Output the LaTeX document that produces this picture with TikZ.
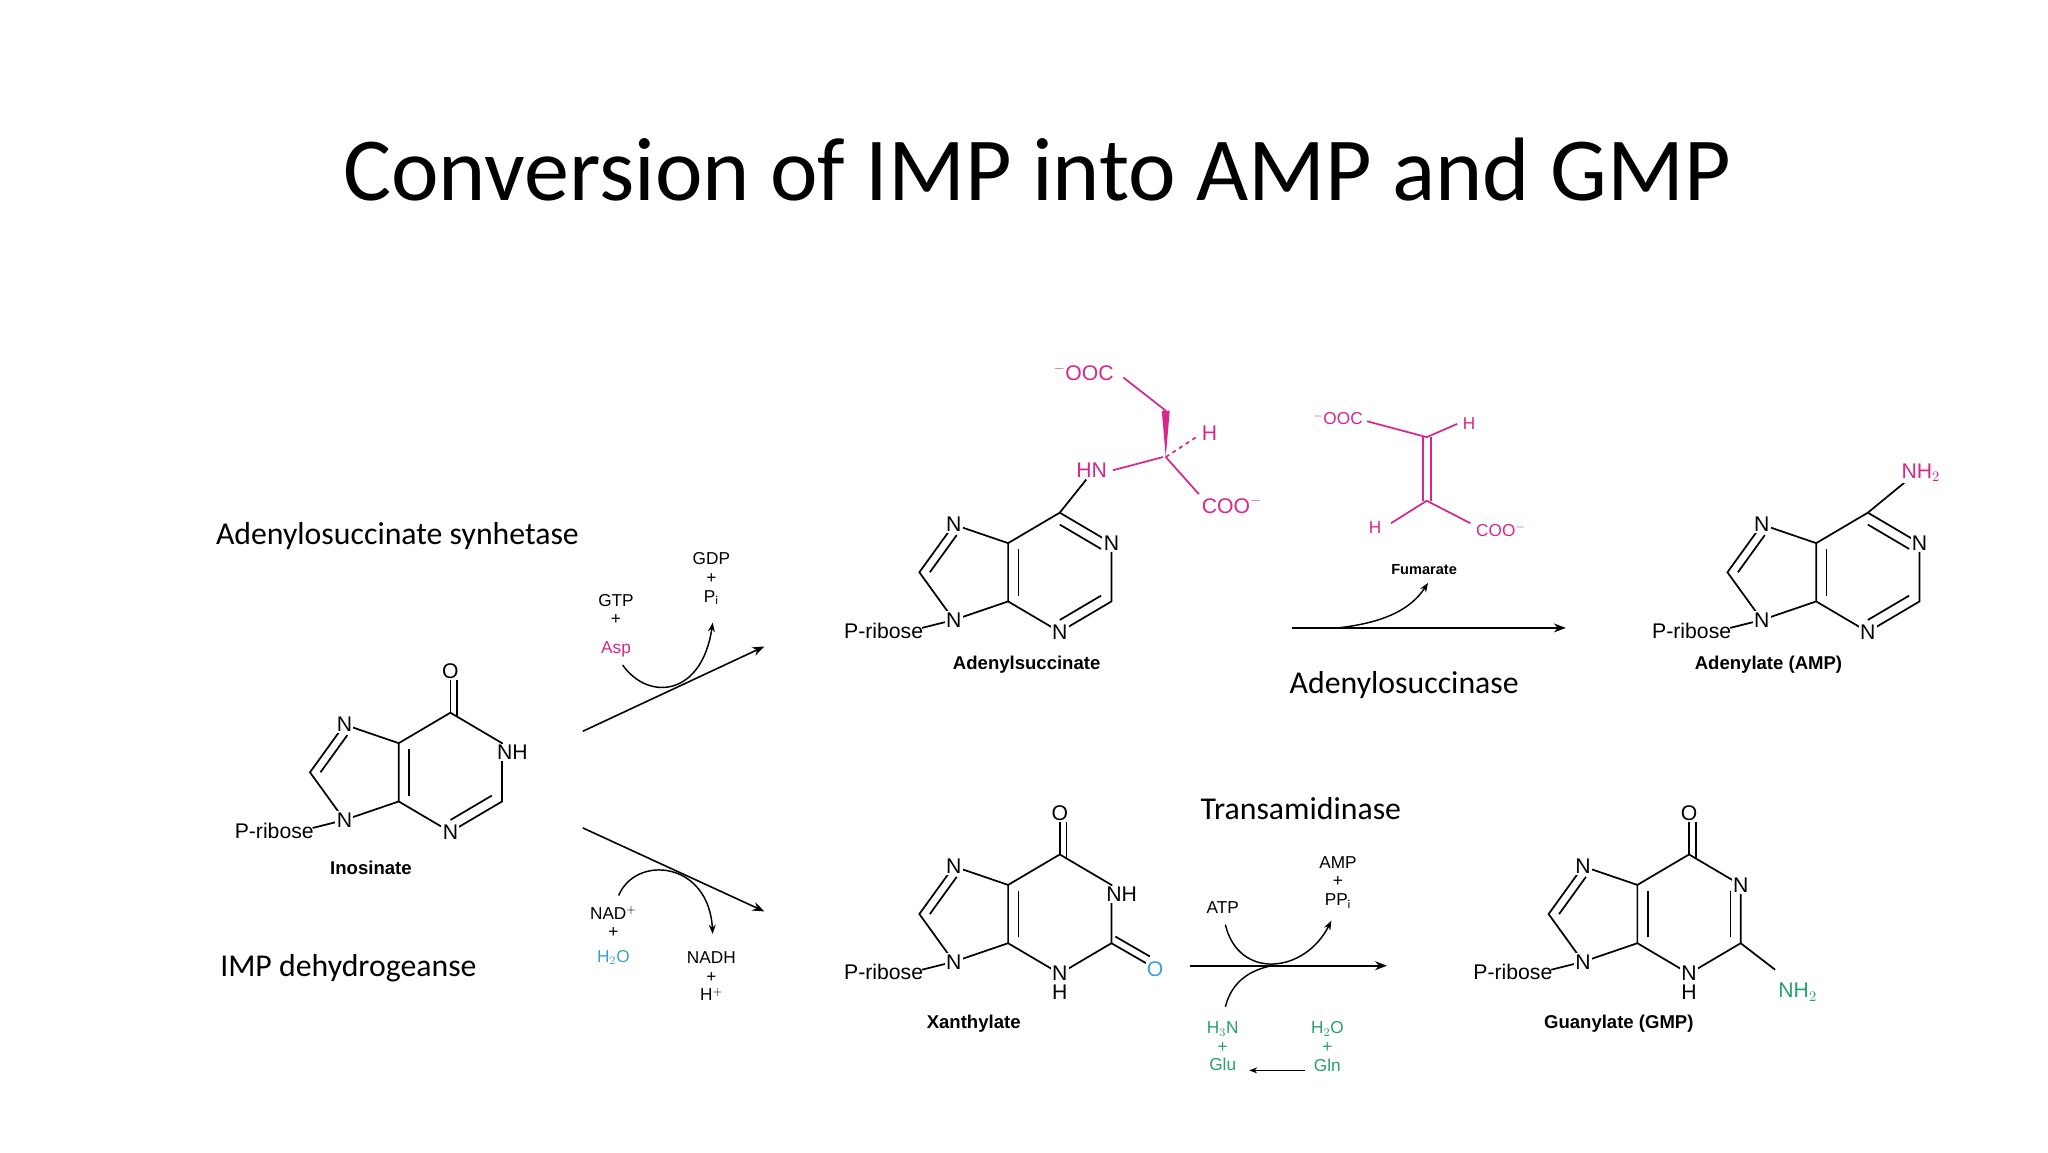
\documentclass[tikz,border=0pt]{standalone}
\usepackage{fontspec}
\setmainfont{Carlito}
\newfontfamily\chem{Liberation Sans}
\usetikzlibrary{calc,arrows.meta}
\definecolor{mag}{RGB}{214,40,140}
\definecolor{cyn}{RGB}{60,160,210}
\definecolor{grn}{RGB}{40,160,110}
\tikzset{
  bond/.style={line width=1.3pt,black},
  atom/.style={font=\chem\fontsize{16}{16}\selectfont,inner sep=1pt,fill=white},
  small/.style={font=\chem\fontsize{13}{14}\selectfont,inner sep=1pt,align=center},
  mname/.style={font=\chem\bfseries\fontsize{14}{14}\selectfont},
  lbl/.style={font=\fontsize{24}{24}\selectfont},
  rarr/.style={line width=1.2pt,-{Stealth[length=9pt]}},
}
\newcommand\purskel{%
  \coordinate (C6) at (0,-45); \coordinate (N1) at (39,-22);
  \coordinate (C2) at (39,22); \coordinate (N3) at (0,45);
  \coordinate (C4) at (-39,22); \coordinate (C5) at (-39,-22);
  \coordinate (N7) at (-80,-36); \coordinate (C8) at (-106,0);
  \coordinate (N9) at (-80,36); \coordinate (hc) at (0,0); \coordinate (pc) at (-70,0);
  \draw[bond] (C6)--(N1)--(C2)--(N3)--(C4)--(C5)--(C6) (C5)--(N7)--(C8)--(N9)--(C4);
  \draw[bond] ($(C4)!.2!(hc)$)--($(C5)!.2!(hc)$);
  \draw[bond] ($(C8)!.22!(pc)$)--($(N7)!.22!(pc)$);
  \draw[bond] (N9)--(-104,42);
  \node[atom] at (N7) {N}; \node[atom] at (N9) {N};
  \node[atom,anchor=east,fill=none] at (-102,44) {P-ribose};
}
\begin{document}
\begin{tikzpicture}[x=1pt,y=-1pt]
\useasboundingbox[fill=white] (0,0) rectangle (1546,870);
\node[font=\fontsize{68}{68}\selectfont] (title) at (783,128) {Conversion of IMP into AMP and GMP};
\node[lbl] (l1) at (300,405) {Adenylosuccinate synhetase};
\node[lbl] (l2) at (1060,517) {Adenylosuccinase};
\node[lbl] (l3) at (982,610) {Transamidinase};
\node[lbl] (l4) at (263,731) {IMP dehydrogeanse};
% Inosinate
\begin{scope}[shift={(340,583)}]
\purskel
\draw[bond] ($(C2)!.2!(hc)$)--($(N3)!.2!(hc)$);
\draw[bond] (C6)--(0,-70) (5,-42)--(5,-70);
\node[atom] at (0,-76) {O};
\node[atom] at (N3) {N};
\node[atom,anchor=west] at (34,-15) {NH};
\node[mname] at (-60,72) {Inosinate};
\end{scope}
% Adenylsuccinate
\begin{scope}[shift={(800,432)}]
\purskel
\draw[bond] ($(C6)!.2!(hc)$)--($(N1)!.2!(hc)$) ($(C2)!.2!(hc)$)--($(N3)!.2!(hc)$);
\node[atom] at (N1) {N}; \node[atom] at (N3) {N};
\draw[bond] (C6)--(20,-70);
\node[atom,text=mag] (hn) at (24,-77) {HN};
\node[mname] at (-25,70) {Adenylsuccinate};
\end{scope}
% side chain
\draw[line width=1.3pt,mag] (840,355)--(878,345) (880,310)--(848,285);
\fill[mag] (880,345)--(877,310)--(883,310)--cycle;
\draw[line width=1.3pt,mag,dashed] (880,345)--(903,330);
\draw[line width=1.3pt,mag] (880,345)--(905,373);
\node[atom,text=mag,fill=none] at (818,281) {$^{-}$OOC};
\node[atom,text=mag,fill=none] at (913,327) {H};
\node[atom,text=mag,fill=none] at (930,381) {COO$^{-}$};
% Fumarate
\draw[line width=1.3pt,mag] (1074,330)--(1074,378) (1080,330)--(1080,378);
\draw[line width=1.3pt,mag] (1032,318)--(1077,330)--(1100,320) (1050,395)--(1077,378)--(1110,395);
\node[small,text=mag] at (1010,316) {$^{-}$OOC};
\node[small,text=mag] at (1109,320) {H};
\node[small,text=mag] at (1038,398) {H};
\node[small,text=mag] at (1133,400) {COO$^{-}$};
\node[mname,font=\chem\bfseries\fontsize{11}{11}\selectfont] (fum) at (1075,430) {Fumarate};
% AMP
\begin{scope}[shift={(1410,432)}]
\purskel
\draw[bond] ($(C6)!.2!(hc)$)--($(N1)!.2!(hc)$) ($(C2)!.2!(hc)$)--($(N3)!.2!(hc)$);
\node[atom] at (N1) {N}; \node[atom] at (N3) {N};
\draw[bond] (C6)--(28,-68);
\node[atom,text=mag] at (40,-75) {NH$_2$};
\node[mname] at (-75,70) {Adenylate (AMP)};
\end{scope}
% Xanthylate
\begin{scope}[shift={(800,690)}]
\purskel
\draw[bond] (C6)--(0,-70) (5,-42)--(5,-70);
\node[atom] at (0,-76) {O};
\draw[bond] (C2)--(65,37) (42,17)--(68,32);
\node[atom,text=cyn] at (72,42) {O};
\node[atom,anchor=west] at (34,-15) {NH};
\node[atom] at (N3) {N}; \node[atom] at (0,59) {H};
\node[mname] at (-65,83) {Xanthylate};
\end{scope}
% GMP
\begin{scope}[shift={(1275,690)}]
\purskel
\draw[bond] (C6)--(0,-70) (5,-42)--(5,-70);
\node[atom] at (0,-76) {O};
\draw[bond] ($(N1)!.2!(hc)$)--($(C2)!.2!(hc)$);
\draw[bond] (C2)--(65,42);
\node[atom,text=grn] at (82,59) {NH$_2$};
\node[atom] at (N1) {N};
\node[atom] at (N3) {N}; \node[atom] at (0,59) {H};
\node[mname] at (-53,83) {Guanylate (GMP)};
\end{scope}
% upper-left reaction
\draw[rarr] (440,552)--(577,488);
\node[small] (gtp) at (465,460) {GTP\\+};
\node[small,text=mag] (asp) at (465,490) {Asp};
\node[small] (gdp) at (537,437) {GDP\\+\\P$_\mathrm{i}$};
\draw[line width=1.1pt,-{Stealth[length=7pt]}] (470,502) .. controls (490,530) and (530,525) .. (538,470);
% lower-left reaction
\draw[rarr] (440,625)--(577,688);
\node[small] (nad) at (463,696) {NAD$^{+}$\\+};
\node[small,text=cyn] (h2o) at (463,723) {H$_2$O};
\node[small] (nadh) at (537,737) {NADH\\+\\H$^{+}$};
\draw[line width=1.1pt,-{Stealth[length=7pt]}] (467,676) .. controls (480,645) and (535,650) .. (538,705);
% Adenylosuccinase
\draw[rarr] (975,474)--(1182,474);
\draw[line width=1.1pt,-{Stealth[length=7pt]}] (1010,474) .. controls (1045,470) and (1065,460) .. (1078,440);
% Transamidinase
\draw[rarr] (898,729)--(1047,729);
\node[small] (atp) at (923,685) {ATP};
\node[small] (amp) at (1010,666) {AMP\\+\\PP$_\mathrm{i}$};
\draw[line width=1.1pt,-{Stealth[length=7pt]}] (925,698) .. controls (935,740) and (985,735) .. (1005,695);
\node[small,text=grn] (h3n) at (923,790) {H$_3$N\\+\\Glu};
\node[small,text=grn] (gln) at (1002,790) {H$_2$O\\+\\Gln};
\draw[line width=1.1pt] (925,760) .. controls (930,740) and (945,732) .. (960,729);
\draw[line width=1pt,-{Stealth[length=6pt]}] (985,808)--(943,808);
\end{tikzpicture}
\end{document}
